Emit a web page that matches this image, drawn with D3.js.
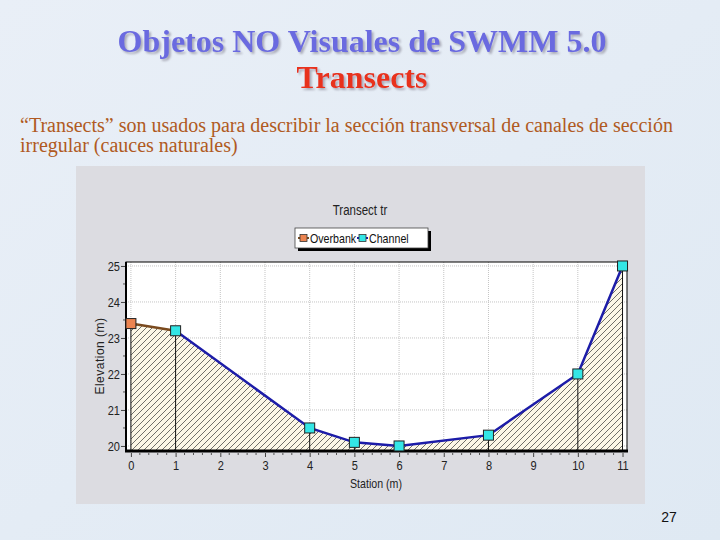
<!DOCTYPE html>
<html>
<head>
<meta charset="utf-8">
<script src="https://cdn.jsdelivr.net/npm/d3@7"></script>
<style>
  html, body { margin: 0; padding: 0; }
  body { width: 720px; height: 540px; overflow: hidden; }
</style>
</head>
<body>
<div id="slide"></div>
<script>
// data
var overbankStation = [0, 1];
var overbankElev = [23.4, 23.2];
var channelStation = [1, 4, 5, 6, 8, 10, 11];
var channelElev = [23.2, 20.5, 20.1, 20.0, 20.3, 22.0, 25.0];
var xTicks = [0, 1, 2, 3, 4, 5, 6, 7, 8, 9, 10, 11];
var xTickLabels = ["0", "1", "2", "3", "4", "5", "6", "7", "8", "9", "10", "11"];
var yTicks = [20, 21, 22, 23, 24, 25];

var W = 720, H = 540;

var svg = d3.select("#slide").append("svg")
    .attr("width", W)
    .attr("height", H);

var defs = svg.append("defs");

// slide background
var bg = defs.append("linearGradient").attr("id", "bg")
    .attr("x1", 0).attr("y1", 0).attr("x2", 1).attr("y2", 1);
bg.append("stop").attr("offset", "0%").attr("stop-color", "#e9eff7");
bg.append("stop").attr("offset", "100%").attr("stop-color", "#dfe9f3");

var hatch = defs.append("pattern").attr("id", "hatch")
    .attr("patternUnits", "userSpaceOnUse")
    .attr("width", 6).attr("height", 6);
hatch.append("rect").attr("width", 6).attr("height", 6).attr("fill", "#fcf7e6");
hatch.append("path")
    .attr("d", "M-1,7 L7,-1 M-4,4 L4,-4 M2,10 L10,2")
    .attr("stroke", "#333").attr("stroke-width", 0.7);

var shadow = defs.append("filter").attr("id", "tshadow")
    .attr("x", "-10%").attr("y", "-20%").attr("width", "130%").attr("height", "160%");
shadow.append("feDropShadow").attr("dx", 2).attr("dy", 2)
    .attr("stdDeviation", 0.8).attr("flood-color", "#9a9aa8").attr("flood-opacity", 0.8);

svg.append("rect").attr("width", W).attr("height", H).attr("fill", "url(#bg)");

// slide titles
svg.append("text")
    .attr("x", 362).attr("y", 52)
    .attr("text-anchor", "middle")
    .style("font-family", "'Liberation Serif', 'Times New Roman', serif")
    .style("font-weight", "bold")
    .style("font-size", "32px")
    .attr("fill", "#6a6ae0")
    .attr("filter", "url(#tshadow)")
    .text("Objetos NO Visuales de SWMM 5.0");

svg.append("text")
    .attr("x", 362).attr("y", 88)
    .attr("text-anchor", "middle")
    .style("font-family", "'Liberation Serif', 'Times New Roman', serif")
    .style("font-weight", "bold")
    .style("font-size", "32px")
    .attr("fill", "#e8321e")
    .attr("filter", "url(#tshadow)")
    .text("Transects");

var para = svg.append("text")
    .style("font-family", "'Liberation Serif', 'Times New Roman', serif")
    .style("font-size", "20px")
    .attr("fill", "#b05a22");
para.append("tspan").attr("x", 20).attr("y", 132)
    .text("\u201cTransects\u201d son usados para describir la secci\u00f3n transversal de canales de secci\u00f3n");
para.append("tspan").attr("x", 20).attr("y", 152)
    .text("irregular (cauces naturales)");

svg.append("text")
    .attr("x", 669).attr("y", 522)
    .attr("text-anchor", "middle")
    .style("font-family", "'Liberation Sans', Arial, sans-serif")
    .style("font-size", "14px")
    .attr("fill", "#111")
    .text("27");

// chart panel
svg.append("rect")
    .attr("x", 76).attr("y", 166)
    .attr("width", 569).attr("height", 338)
    .attr("fill", "#dcdce1");

var chartFont = "'Liberation Sans', Arial, sans-serif";
// the chart text is a narrow face, squeeze it horizontally
function narrow(sel, px, py) {
    sel.attr("transform", "translate(" + px + "," + py + ") scale(0.82,1)")
        .attr("x", 0).attr("y", 0);
}

var frame = { left: 126, right: 627, top: 262, bottom: 451 };

var x = d3.scaleLinear()
    .domain([-0.11, 11.1])
    .range([frame.left, frame.right]);

var y = d3.scaleLinear()
    .domain([19.86, 25.11])
    .range([frame.bottom, frame.top]);

svg.append("text")
    .attr("text-anchor", "middle")
    .style("font-family", chartFont)
    .style("font-size", "14px")
    .attr("fill", "#222")
    .text("Transect tr")
    .call(narrow, 360, 215);

// plot background
svg.append("rect")
    .attr("x", frame.left).attr("y", frame.top)
    .attr("width", frame.right - frame.left).attr("height", frame.bottom - frame.top)
    .attr("fill", "#ffffff");

// grid
var grid = svg.append("g").attr("class", "grid");
grid.selectAll(".gx").data(xTicks).enter().append("line")
    .attr("x1", function (d) { return x(d); })
    .attr("x2", function (d) { return x(d); })
    .attr("y1", frame.top).attr("y2", frame.bottom)
    .attr("stroke", "#c4c4c4").attr("stroke-dasharray", "1,1");
grid.selectAll(".gy").data(yTicks).enter().append("line")
    .attr("y1", function (d) { return y(d); })
    .attr("y2", function (d) { return y(d); })
    .attr("x1", frame.left).attr("x2", frame.right)
    .attr("stroke", "#c4c4c4").attr("stroke-dasharray", "1,1");

// profile = overbank + channel
var profile = [];
overbankStation.forEach(function (s, i) { profile.push([s, overbankElev[i]]); });
channelStation.forEach(function (s, i) {
    if (s !== overbankStation[overbankStation.length - 1]) profile.push([s, channelElev[i]]);
});

var area = d3.area()
    .x(function (d) { return x(d[0]); })
    .y0(frame.bottom)
    .y1(function (d) { return y(d[1]); });

svg.append("path")
    .datum(profile)
    .attr("d", area)
    .attr("fill", "url(#hatch)");

// vertical station lines
svg.selectAll(".vline").data(profile).enter().append("line")
    .attr("x1", function (d) { return x(d[0]); })
    .attr("x2", function (d) { return x(d[0]); })
    .attr("y1", function (d) { return y(d[1]); })
    .attr("y2", frame.bottom)
    .attr("stroke", "#111").attr("stroke-width", 1);

// frame
svg.append("rect")
    .attr("x", frame.left).attr("y", frame.top)
    .attr("width", frame.right - frame.left).attr("height", frame.bottom - frame.top)
    .attr("fill", "none").attr("stroke", "#000").attr("stroke-width", 1);
svg.append("line")
    .attr("x1", frame.left).attr("x2", frame.left)
    .attr("y1", frame.top).attr("y2", frame.bottom)
    .attr("stroke", "#000").attr("stroke-width", 2);
svg.append("line")
    .attr("x1", frame.left - 1).attr("x2", frame.right + 1)
    .attr("y1", frame.bottom).attr("y2", frame.bottom)
    .attr("stroke", "#000").attr("stroke-width", 3);

// axes
var xAxis = d3.axisBottom(x)
    .tickValues(xTicks)
    .tickSize(4)
    .tickFormat(function (d, i) { return xTickLabels[i]; });
var gx = svg.append("g")
    .attr("transform", "translate(0," + (frame.bottom + 2) + ")")
    .call(xAxis);
gx.select(".domain").remove();
gx.selectAll("line").attr("stroke", "#444");
gx.selectAll("text")
    .attr("y", 8)
    .attr("transform", "scale(0.85,1)")
    .style("font-family", chartFont)
    .style("font-size", "13px")
    .attr("fill", "#222");

// minor x ticks
var xMinor = d3.range(0, 11.01, 0.2).filter(function (v) { return Math.abs(v - Math.round(v)) > 0.01; });
svg.selectAll(".xminor").data(xMinor).enter().append("line")
    .attr("x1", function (d) { return x(d); })
    .attr("x2", function (d) { return x(d); })
    .attr("y1", frame.bottom + 2).attr("y2", frame.bottom + 4)
    .attr("stroke", "#555");

var yAxis = d3.axisLeft(y)
    .tickValues(yTicks)
    .tickSize(4)
    .tickFormat(d3.format("d"));
var gy = svg.append("g")
    .attr("transform", "translate(" + (frame.left - 1) + ",0)")
    .call(yAxis);
gy.select(".domain").remove();
gy.selectAll("line").attr("stroke", "#444");
gy.selectAll("text")
    .attr("x", -6)
    .attr("transform", "scale(0.85,1)")
    .style("font-family", chartFont)
    .style("font-size", "13px")
    .attr("fill", "#222");

var yMinor = d3.range(20, 25.01, 0.5).filter(function (v) { return Math.abs(v - Math.round(v)) > 0.01; });
svg.selectAll(".yminor").data(yMinor).enter().append("line")
    .attr("x1", frame.left - 3).attr("x2", frame.left - 1)
    .attr("y1", function (d) { return y(d); })
    .attr("y2", function (d) { return y(d); })
    .attr("stroke", "#555");

svg.append("text")
    .attr("text-anchor", "middle")
    .style("font-family", chartFont)
    .style("font-size", "13px")
    .attr("fill", "#222")
    .text("Station (m)")
    .call(narrow, 376, 488);

svg.append("text")
    .attr("transform", "translate(104,356) rotate(-90)")
    .attr("text-anchor", "middle")
    .style("font-family", chartFont)
    .style("font-size", "12px")
    .style("letter-spacing", "0.5px")
    .attr("fill", "#222")
    .text("Elevation (m)");

// lines
var line = d3.line()
    .x(function (d) { return x(d[0]); })
    .y(function (d) { return y(d[1]); });

var overbankPts = overbankStation.map(function (s, i) { return [s, overbankElev[i]]; });
var channelPts = channelStation.map(function (s, i) { return [s, channelElev[i]]; });

svg.append("path").datum(overbankPts)
    .attr("d", line)
    .attr("fill", "none")
    .attr("stroke", "#7a4a1e").attr("stroke-width", 2.5);

svg.append("path").datum(channelPts)
    .attr("d", line)
    .attr("fill", "none")
    .attr("stroke", "#1c1ca8").attr("stroke-width", 2.5);

var ms = 10;
svg.selectAll(".mo").data(overbankPts.slice(0, 1)).enter().append("rect")
    .attr("x", function (d) { return x(d[0]) - ms / 2; })
    .attr("y", function (d) { return y(d[1]) - ms / 2; })
    .attr("width", ms).attr("height", ms)
    .attr("fill", "#ec8450").attr("stroke", "#222").attr("stroke-width", 1);

svg.selectAll(".mc").data(channelPts).enter().append("rect")
    .attr("x", function (d) { return x(d[0]) - ms / 2; })
    .attr("y", function (d) { return y(d[1]) - ms / 2; })
    .attr("width", ms).attr("height", ms)
    .attr("fill", "#33e6e6").attr("stroke", "#222").attr("stroke-width", 1);

// legend
var lg = svg.append("g").attr("transform", "translate(295,228)");
lg.append("rect").attr("x", 3).attr("y", 3).attr("width", 133).attr("height", 20).attr("fill", "#000");
lg.append("rect").attr("x", 0).attr("y", 0).attr("width", 133).attr("height", 20)
    .attr("fill", "#fff").attr("stroke", "#444").attr("stroke-width", 0.8);

var legendItems = [
    { name: "Overbank", fill: "#ec8450", stroke: "#7a4a1e", x: 3 },
    { name: "Channel", fill: "#33e6e6", stroke: "#1c1ca8", x: 62 }
];
var li = lg.selectAll(".li").data(legendItems).enter().append("g")
    .attr("transform", function (d) { return "translate(" + d.x + ",10)"; });
li.append("line").attr("x1", 0).attr("x2", 11).attr("y1", 0).attr("y2", 0)
    .attr("stroke", function (d) { return d.stroke; }).attr("stroke-width", 2);
li.append("rect").attr("x", 2).attr("y", -3.5).attr("width", 7).attr("height", 7)
    .attr("fill", function (d) { return d.fill; }).attr("stroke", "#333").attr("stroke-width", 0.8);
li.append("text")
    .style("font-family", chartFont)
    .style("font-size", "13px")
    .attr("fill", "#111")
    .text(function (d) { return d.name; })
    .call(narrow, 12, 5);
</script>
</body>
</html>
